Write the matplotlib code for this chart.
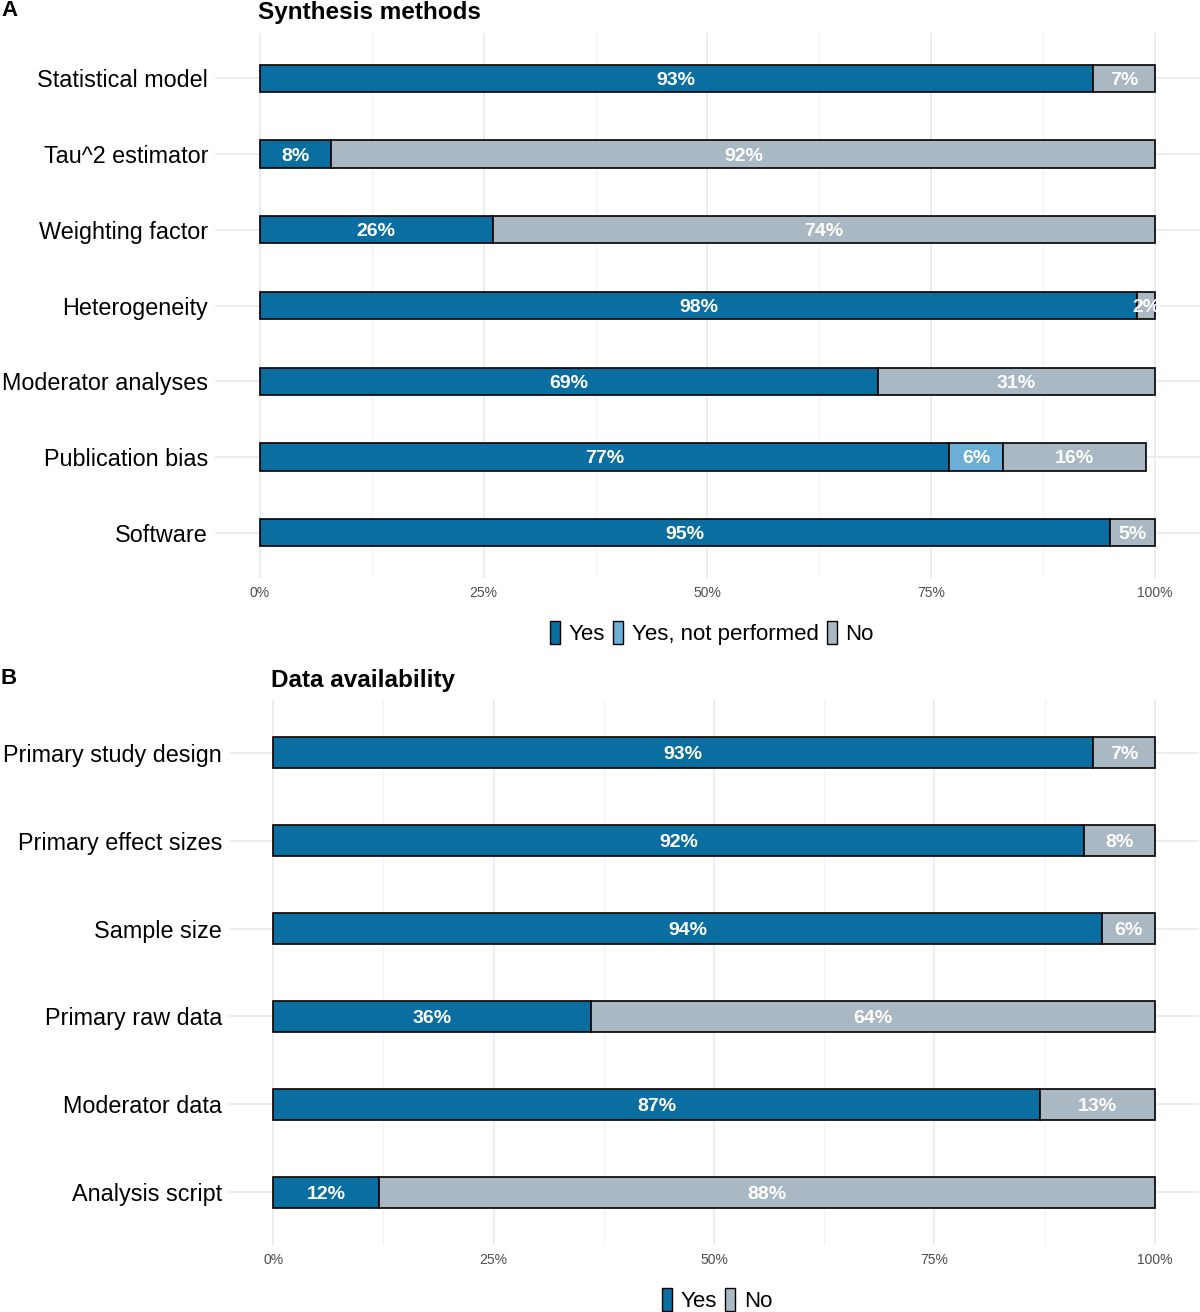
import matplotlib
matplotlib.use("Agg")
import matplotlib.pyplot as plt
from matplotlib.patches import Patch
from matplotlib.ticker import MultipleLocator

plt.rcParams['font.family'] = ['Liberation Sans', 'DejaVu Sans']

# ---- data ----
methods = ["Statistical model", "Tau^2 estimator", "Weighting factor", "Heterogeneity",
           "Moderator analyses", "Publication bias", "Software"]
methods_yes = [93, 8, 26, 98, 69, 77, 95]
methods_notperf = [0, 0, 0, 0, 0, 6, 0]
methods_no = [7, 92, 74, 2, 31, 16, 5]

avail = ["Primary study design", "Primary effect sizes", "Sample size",
         "Primary raw data", "Moderator data", "Analysis script"]
avail_yes = [93, 92, 94, 36, 87, 12]
avail_no = [7, 8, 6, 64, 13, 88]

c_yes = "#0b6ea1"
c_np = "#6baed6"
c_no = "#a9b8c2"

W, H = 1200, 1312
fig = plt.figure(figsize=(W / 100, H / 100), dpi=100)


def px_axes(left, top, right, bottom):
    return fig.add_axes([left / W, 1 - bottom / H, (right - left) / W, (bottom - top) / H])


def draw_panel(ax, cats, series, bar_h):
    n = len(cats)
    ys = list(range(n))
    left = [0] * n
    for vals, col in series:
        for i in range(n):
            v = vals[i]
            if v <= 0:
                continue
            ax.barh(ys[i], v, left=left[i], height=bar_h, color=col,
                    edgecolor="black", linewidth=1.2, zorder=3)
            ax.text(left[i] + v / 2, ys[i], f"{v}%", ha="center", va="center_baseline",
                    color="white", fontsize=14, fontweight="bold", zorder=4)
            left[i] += v
    ax.set_xlim(-5, 105)
    ax.set_ylim(n - 0.4, -0.6)
    ax.set_yticks(ys)
    ax.set_yticklabels(cats, fontsize=16.8, color="black")
    ax.xaxis.set_minor_locator(MultipleLocator(12.5))
    ax.set_xticks([0, 25, 50, 75, 100])
    ax.set_xticklabels(["0%", "25%", "50%", "75%", "100%"], fontsize=10, color="#4d4d4d")
    ax.tick_params(axis="both", which="both", length=0, pad=6)
    ax.tick_params(axis="y", pad=5)
    ax.grid(True, which="major", color="#e8e8e8", linewidth=1.1, zorder=0)
    ax.grid(True, which="minor", axis="x", color="#f2f2f2", linewidth=0.7, zorder=0)
    ax.set_axisbelow(True)
    for s in ax.spines.values():
        s.set_visible(False)


leg_kw = dict(loc="center", frameon=False, fontsize=16, handlelength=0.45, handleheight=1.2,
              handletextpad=0.4, columnspacing=0.35)

# panel A
axA = px_axes(215, 33, 1200, 578)
draw_panel(axA, methods, [(methods_yes, c_yes), (methods_notperf, c_np), (methods_no, c_no)], 0.36)
fig.text(258 / W, 1 - 13 / H, "Synthesis methods", fontsize=17.5, fontweight="bold",
         va="center", ha="left")
fig.text(1 / W, 1 - 11 / H, "A", fontsize=16, fontweight="bold", va="center", ha="left")
hA = [Patch(facecolor=c_yes, edgecolor="black", label="Yes"),
      Patch(facecolor=c_np, edgecolor="black", label="Yes, not performed"),
      Patch(facecolor=c_no, edgecolor="black", label="No")]
fig.legend(handles=hA, bbox_to_anchor=(712 / W, 1 - 633 / H), ncol=3, **leg_kw)

# panel B
axB = px_axes(229, 700, 1199, 1245)
draw_panel(axB, avail, [(avail_yes, c_yes), (avail_no, c_no)], 0.35)
fig.text(271 / W, 1 - 680 / H, "Data availability", fontsize=17.5, fontweight="bold",
         va="center", ha="left")
fig.text(1 / W, 1 - 678 / H, "B", fontsize=16, fontweight="bold", va="center", ha="left")
hB = [Patch(facecolor=c_yes, edgecolor="black", label="Yes"),
      Patch(facecolor=c_no, edgecolor="black", label="No")]
fig.legend(handles=hB, bbox_to_anchor=(717 / W, 1 - 1300 / H), ncol=2, **leg_kw)

fig.savefig("out.png", dpi=100, facecolor="white")
